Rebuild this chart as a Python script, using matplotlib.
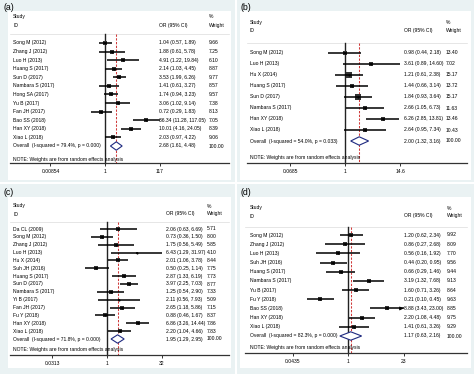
import matplotlib
matplotlib.use('Agg')
import matplotlib.pyplot as plt
import numpy as np
from matplotlib.patches import Rectangle, Polygon
from matplotlib.ticker import NullLocator, FixedLocator, FixedFormatter

plt.rcParams['font.family'] = ['Liberation Sans', 'DejaVu Sans']

# ---------------- data ----------------
a_studies = ["Song M (2012)", "Zhang J (2012)", "Luo H (2013)", "Huang S (2017)", "Sun D (2017)",
             "Nambara S (2017)", "Hong SA (2017)", "Yu B (2017)", "Fan JH (2017)", "Bao SS (2018)",
             "Han XY (2018)", "Xiao L (2018)"]
a_or = [1.04, 1.88, 4.91, 2.14, 3.53, 1.41, 1.74, 3.06, 0.72, 36.34, 10.01, 2.03]
a_lo = [0.57, 0.61, 1.22, 1.03, 1.99, 0.61, 0.94, 1.02, 0.29, 11.28, 4.16, 0.97]
a_hi = [1.89, 5.78, 19.84, 4.45, 6.26, 3.27, 3.23, 9.14, 1.83, 117.05, 24.05, 4.22]
a_wt = [9.66, 7.25, 6.10, 8.87, 9.77, 8.57, 9.57, 7.38, 8.13, 7.05, 8.39, 9.06]
a_overall = [2.68, 1.61, 4.48]
a_het = ["79.4%", "0.000"]
a_ticks = ["0.00854", "1", "117"]

b_studies = ["Song M (2012)", "Luo H (2013)", "Hu X (2014)", "Huang S (2017)", "Sun D (2017)",
             "Nambara S (2017)", "Han XY (2018)", "Xiao L (2018)"]
b_or = [0.98, 3.61, 1.21, 1.44, 1.84, 2.66, 6.26, 2.64]
b_lo = [0.44, 0.89, 0.61, 0.66, 0.93, 1.05, 2.85, 0.95]
b_hi = [2.18, 14.60, 2.38, 3.14, 3.64, 6.73, 13.81, 7.34]
b_wt = [13.40, 7.02, 15.17, 13.72, 15.17, 11.63, 13.46, 10.43]
b_overall = [2.00, 1.32, 3.16]
b_het = ["54.0%", "0.033"]
b_ticks = ["0.0685", "1", "14.6"]

c_studies = ["Da CL (2009)", "Song M (2012)", "Zhang J (2012)", "Luo H (2013)", "Hu X (2014)",
             "Suh JH (2016)", "Huang S (2017)", "Sun D (2017)", "Nambara S (2017)", "Yi B (2017)",
             "Fan JH (2017)", "Fu Y (2018)", "Han XY (2018)", "Xiao L (2018)"]
c_or = [2.06, 0.73, 1.75, 6.43, 2.01, 0.50, 2.87, 3.97, 1.25, 2.11, 2.65, 0.88, 6.86, 2.20]
c_lo = [0.63, 0.36, 0.56, 1.29, 1.06, 0.25, 1.33, 2.25, 0.54, 0.56, 1.18, 0.46, 3.26, 1.04]
c_hi = [6.69, 1.50, 5.49, 31.97, 3.78, 1.14, 6.19, 7.03, 2.90, 7.93, 5.86, 1.67, 14.44, 4.66]
c_wt = [5.71, 8.00, 5.85, 4.10, 8.44, 7.75, 7.73, 8.77, 7.33, 5.09, 7.15, 8.37, 7.86, 7.83]
c_overall = [1.95, 1.29, 2.95]
c_het = ["71.8%", "0.000"]
c_ticks = ["0.0313", "1", "32"]

d_studies = ["Song M (2012)", "Zhang J (2012)", "Luo H (2013)", "Suh JH (2016)", "Huang S (2017)",
             "Nambara S (2017)", "Yu B (2017)", "Fu Y (2018)", "Bao SS (2018)", "Han XY (2018)",
             "Xiao L (2018)"]
d_or = [1.20, 0.86, 0.56, 0.44, 0.66, 3.19, 1.60, 0.21, 8.88, 2.20, 1.41]
d_lo = [0.62, 0.27, 0.16, 0.20, 0.29, 1.32, 0.71, 0.10, 3.43, 1.08, 0.61]
d_hi = [2.34, 2.68, 1.92, 0.95, 1.46, 7.68, 3.26, 0.45, 23.00, 4.48, 3.26]
d_wt = [9.92, 8.09, 7.70, 9.56, 9.44, 9.13, 8.64, 9.63, 8.85, 9.75, 9.29]
d_overall = [1.17, 0.63, 2.16]
d_het = ["82.3%", "0.000"]
d_ticks = ["0.0435", "1", "23"]

panel_labels = ["(a)", "(b)", "(c)", "(d)"]
note_text = "NOTE: Weights are from random effects analysis"

# ---------------- layout (pixels) ----------------
W, H = 474, 374
GRAY = '#eaf2f3'
FS = 3.6

layouts = [
    dict(gray=(0, 0, 235, 182), white=(8, 11, 231, 180), axx=(10, 229), axis_y=163, null_x=105, half=54.5,
         first=43, last=146, hline=34, study_y=17, id_y=26, note_y=159, lab=(3, 7),
         tx=13, orx=159, wtx=209),
    dict(gray=(237, 0, 474, 182), white=(240, 11, 471, 180), axx=(247, 467), axis_y=163, null_x=345, half=55,
         first=53, last=141, hline=43, study_y=23, id_y=31, note_y=157, lab=(240, 7),
         tx=250, orx=404, wtx=446),
    dict(gray=(0, 184, 235, 374), white=(8, 197, 231, 368), axx=(10, 229), axis_y=355, null_x=107, half=55,
         first=229, last=339, hline=222, study_y=206, id_y=214, note_y=349, lab=(3, 192),
         tx=13, orx=166, wtx=207),
    dict(gray=(237, 184, 474, 374), white=(240, 197, 471, 368), axx=(245, 467), axis_y=353, null_x=348, half=55.5,
         first=235, last=336, hline=227, study_y=208, id_y=216, note_y=347, lab=(240, 192),
         tx=250, orx=404, wtx=447),
]

panels = [
    (a_studies, a_or, a_lo, a_hi, a_wt, a_overall, a_het, a_ticks, False),
    (b_studies, b_or, b_lo, b_hi, b_wt, b_overall, b_het, b_ticks, False),
    (c_studies, c_or, c_lo, c_hi, c_wt, c_overall, c_het, c_ticks, False),
    (d_studies, d_or, d_lo, d_hi, d_wt, d_overall, d_het, d_ticks, True),
]

fig = plt.figure(figsize=(W / 100, H / 100), dpi=100)
fig.patch.set_facecolor('white')


def frect(x0, y0, x1, y1, color):
    fig.add_artist(Rectangle((x0 / W, 1 - y1 / H), (x1 - x0) / W, (y1 - y0) / H,
                             transform=fig.transFigure, facecolor=color, edgecolor='none', zorder=0))


for lay, panel, plab in zip(layouts, panels, panel_labels):
    studies, ors, los, his, wts, overall, het, ticks, arrow_right = panel
    frect(*lay['gray'], GRAY)
    frect(*lay['white'], 'white')
    fig.text(lay['lab'][0] / W, 1 - lay['lab'][1] / H, plab, fontsize=6.3, ha='left', va='center')

    x0, x1 = lay['axx']
    top = lay['white'][1]
    ax = fig.add_axes([x0 / W, 1 - lay['axis_y'] / H, (x1 - x0) / W, (lay['axis_y'] - top) / H])
    ax.patch.set_visible(False)
    ax.set_xscale('log')
    tvals = [float(t) for t in ticks]
    lnT = np.log(tvals[-1])
    ax.set_xlim(np.exp((x0 - lay['null_x']) / lay['half'] * lnT),
                np.exp((x1 - lay['null_x']) / lay['half'] * lnT))
    n = len(studies)
    sp = (lay['last'] - lay['first']) / n

    def ry(py):
        return (py - lay['first']) / sp

    ax.set_ylim(ry(lay['axis_y']), ry(top))
    for s in ['top', 'left', 'right']:
        ax.spines[s].set_visible(False)
    ax.spines['bottom'].set_linewidth(0.9)
    ax.spines['bottom'].set_color('#333333')
    ax.xaxis.set_major_locator(FixedLocator(tvals))
    ax.xaxis.set_major_formatter(FixedFormatter(ticks))
    ax.xaxis.set_minor_locator(NullLocator())
    ax.tick_params(axis='x', length=2.5, width=0.7, labelsize=FS, pad=2, color='#333333')
    ax.set_yticks([])

    tr = ax.get_yaxis_transform()

    def fxa(px):
        return (px - x0) / (x1 - x0)

    # header line
    ax.plot([0, 1], [ry(lay['hline'])] * 2, transform=tr, color='#dcdcdc', lw=0.5, clip_on=False)
    # null line and overall line
    ax.plot([1, 1], [ry(lay['hline']), ry(lay['axis_y'])], color='#222222', lw=1.0, clip_on=False)
    ax.plot([overall[0]] * 2, [ry(lay['hline']), ry(lay['axis_y'])], color='#d03a3a', lw=0.75,
            dashes=(2.2, 1.4), clip_on=False)

    # headers
    ax.text(fxa(lay['tx']), ry(lay['study_y']), "Study", transform=tr, fontsize=FS, va='center')
    ax.text(fxa(lay['tx']), ry(lay['id_y']), "ID", transform=tr, fontsize=FS, va='center')
    ax.text(fxa(lay['orx']), ry(lay['id_y']), "OR (95% CI)", transform=tr, fontsize=FS, va='center')
    ax.text(fxa(lay['wtx']), ry(lay['study_y']), "%", transform=tr, fontsize=FS, va='center')
    ax.text(fxa(lay['wtx']), ry(lay['id_y']), "Weight", transform=tr, fontsize=FS, va='center')

    xmax = tvals[-1]
    for i, (st, o, lo, hi, w) in enumerate(zip(studies, ors, los, his, wts)):
        ax.plot([o], [i], marker='s', ms=0.95 * np.sqrt(w), color='#333333', mew=0, zorder=2)
        if arrow_right and hi >= xmax:
            ax.hlines(i, lo, xmax, color='black', lw=1.1, zorder=3)
            ax.annotate('', xy=(xmax, i), xytext=(xmax * 0.8, i),
                        arrowprops=dict(arrowstyle='->', lw=0.9, color='black',
                                        mutation_scale=4.5, shrinkA=0, shrinkB=0))
        else:
            ax.hlines(i, lo, hi, color='black', lw=1.1, zorder=3)
        ax.plot([o], [i], marker='o', ms=1.5, color='black', mew=0, zorder=4)
        ax.text(fxa(lay['tx']), i, st, transform=tr, fontsize=FS, va='center')
        ax.text(fxa(lay['orx']), i, f"{o:.2f} ({lo:.2f}, {hi:.2f})", transform=tr, fontsize=FS, va='center')
        ax.text(fxa(lay['wtx']), i, f"{w:.2f}", transform=tr, fontsize=FS, va='center')

    # overall diamond
    est, lo, hi = overall
    dh = 4.2 / sp
    ax.add_patch(Polygon([(lo, n), (est, n - dh), (hi, n), (est, n + dh)], closed=True,
                         facecolor='white', edgecolor='#1f2a80', lw=0.8, zorder=5))
    ax.text(fxa(lay['tx']), n, f"Overall  (I-squared = {het[0]}, p = {het[1]})", transform=tr,
            fontsize=FS, va='center')
    ax.text(fxa(lay['orx']), n, f"{est:.2f} ({lo:.2f}, {hi:.2f})", transform=tr, fontsize=FS, va='center')
    ax.text(fxa(lay['wtx']), n, "100.00", transform=tr, fontsize=FS, va='center')
    ax.text(fxa(lay['tx']), ry(lay['note_y']), note_text, transform=tr, fontsize=FS, va='center')

fig.savefig('out.png', dpi=100, facecolor=fig.get_facecolor())
